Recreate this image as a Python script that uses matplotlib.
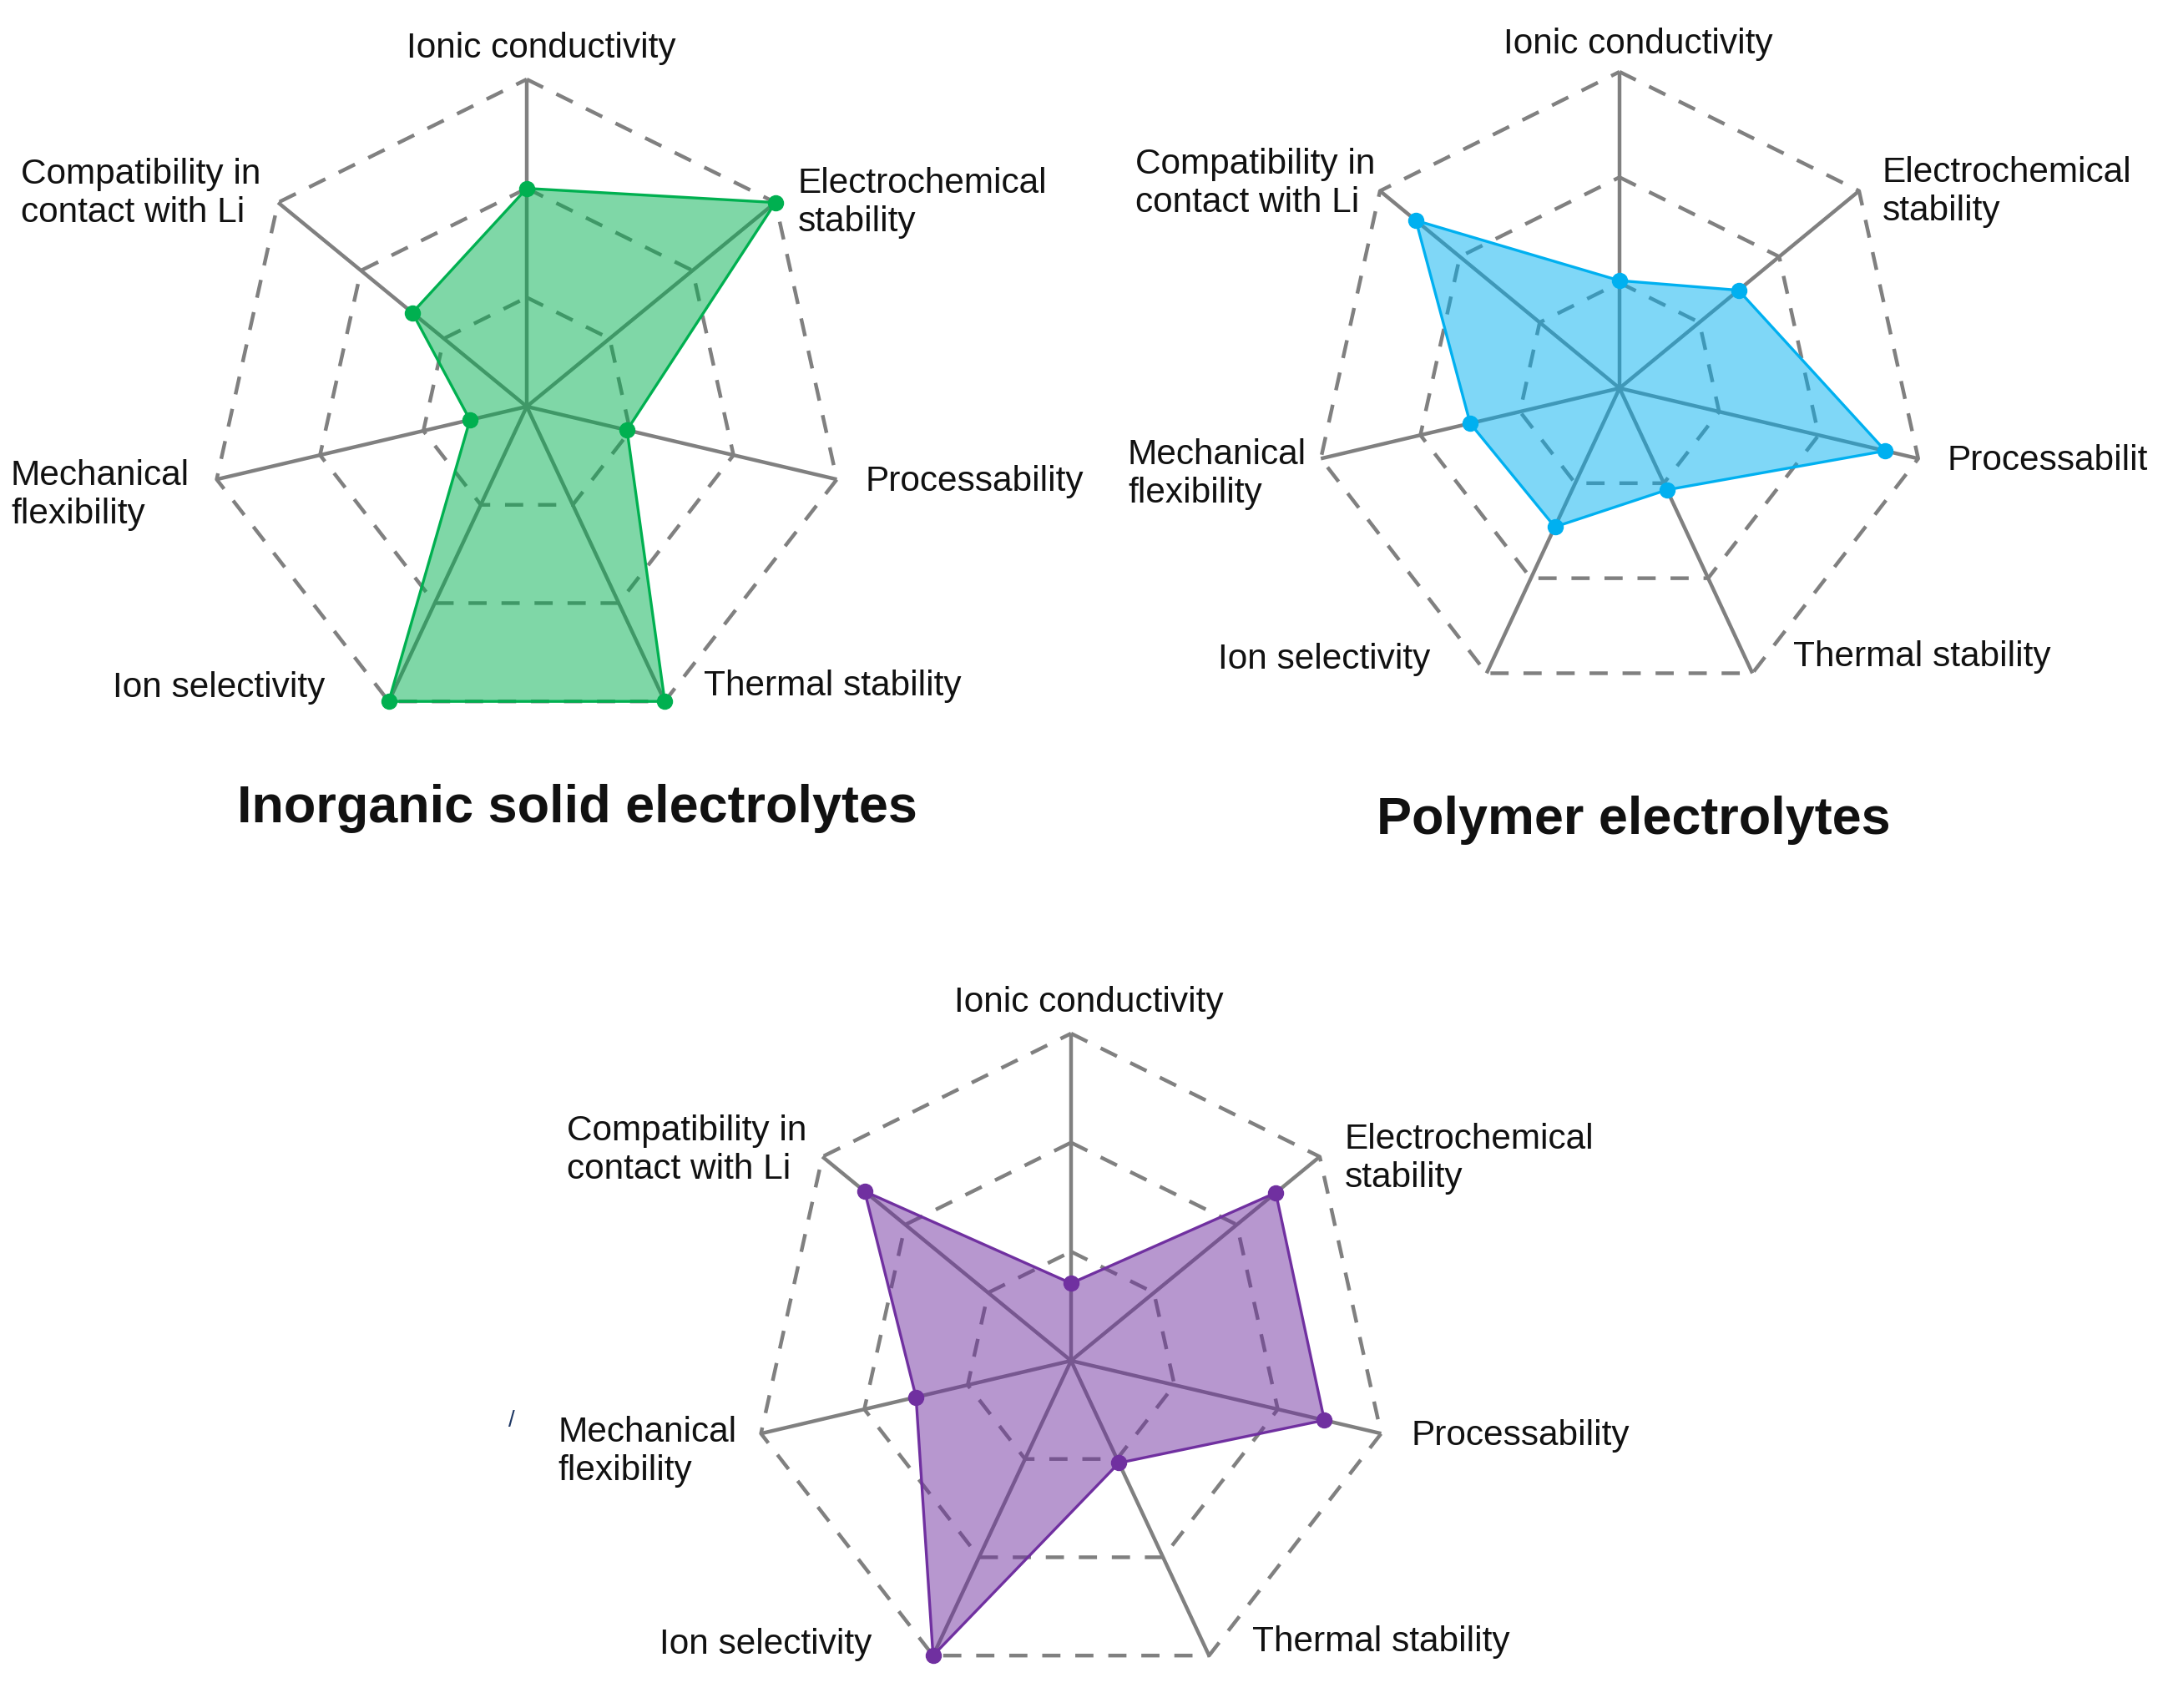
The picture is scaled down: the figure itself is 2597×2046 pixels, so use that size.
import numpy as np
import matplotlib
matplotlib.use("Agg")
import matplotlib.pyplot as plt
from matplotlib.transforms import Bbox

plt.rcParams['font.family'] = ['Liberation Sans', 'DejaVu Sans']

# ---------------- data ----------------
categories = ["Ionic conductivity", "Electrochemical\nstability", "Processability",
              "Thermal stability", "Ion selectivity", "Mechanical\nflexibility",
              "Compatibility in\ncontact with Li"]
levels = [1, 2, 3]
inorganic = [2.0, 3.0, 0.97, 3.0, 3.0, 0.55, 1.38]
polymer = [1.02, 1.49, 2.67, 1.07, 1.46, 1.50, 2.55]
composite = [0.71, 2.47, 2.45, 1.04, 3.0, 1.50, 2.49]
titles = ["Inorganic solid electrolytes", "Polymer electrolytes"]
colors = ["#00B050", "#00B0F0", "#7030A0"]

# ---------------- layout ----------------
W, H = 2597, 2046
fig = plt.figure(figsize=(W / 100, H / 100), dpi=100)
fig.patch.set_facecolor("white")

GRID = "#808080"
FS = 30.5
TFS = 45.3


def add_radar(cx, cy, rx, ry, values, color):
    ax = fig.add_axes([(cx - rx) / W, (H - cy - ry) / H, 2 * rx / W, 2 * ry / H],
                      projection="polar")
    ax.set_aspect("auto")
    ax.set_theta_zero_location("N")
    ax.set_theta_direction(-1)
    n = len(categories)
    ang = np.linspace(0, 2 * np.pi, n, endpoint=False)
    ang_c = np.append(ang, ang[0])
    for lv in levels:
        ax.plot(ang_c, [lv] * (n + 1), color=GRID, lw=3.2, ls=(0, (4.9, 4.0)),
                zorder=1, clip_on=False)
    for a in ang:
        ax.plot([a, a], [0, levels[-1]], color=GRID, lw=3.2, zorder=1,
                clip_on=False, solid_capstyle="butt")
    vals = np.append(values, values[0])
    ax.fill(ang_c, vals, color=color, alpha=0.5, lw=0, zorder=2, clip_on=False)
    ax.plot(ang_c, vals, color=color, lw=2.4, zorder=3, clip_on=False)
    ax.plot(ang, values, "o", color=color, ms=13, zorder=4, clip_on=False)
    ax.set_ylim(0, levels[-1])
    ax.set_axis_off()
    return ax


def label(x, y, s, ha="left", fs=FS, **kw):
    return fig.text(x / W, 1 - y / H, s, ha=ha, va="center", fontsize=fs,
                    color="#111111", **kw)


def title(x, y, s):
    fig.text(x / W, 1 - y / H, s, ha="center", va="center",
             fontsize=TFS, fontweight="bold", color="#111111")


# chart 1 : inorganic
add_radar(631, 487, 381, 392, inorganic, colors[0])
label(648, 58, categories[0], ha="center")
label(956, 243, categories[1])
label(1036, 577, categories[2])
label(843, 822, categories[3])
label(389, 824, categories[4], ha="right")
label(13, 593, categories[5])
label(25, 232, categories[6])
title(691, 969, titles[0])

# chart 2 : polymer
add_radar(1940, 465, 367, 379, polymer, colors[1])
label(1962, 53, categories[0], ha="center")
label(2255, 230, categories[1])
t = label(2333, 552, categories[2])
t.set_clip_box(Bbox.from_extents(0, 0, 2572, H))
t.set_clip_on(True)
label(2148, 787, categories[3])
label(1713, 790, categories[4], ha="right")
label(1351, 568, categories[5])
label(1360, 220, categories[6])
title(1957, 983, titles[1])

# chart 3 : composite
add_radar(1283, 1630, 381, 392, composite, colors[2])
label(1304, 1201, categories[0], ha="center")
label(1611, 1388, categories[1])
label(1690, 1720, categories[2])
label(1500, 1967, categories[3])
label(1044, 1970, categories[4], ha="right")
label(668, 1739, categories[5])
label(679, 1378, categories[6])
fig.text(613 / W, 1 - 1702 / H, "/", ha="center", va="center", fontsize=20,
         color="#1F3864")

fig.savefig("out.png", dpi=100, facecolor="white")
